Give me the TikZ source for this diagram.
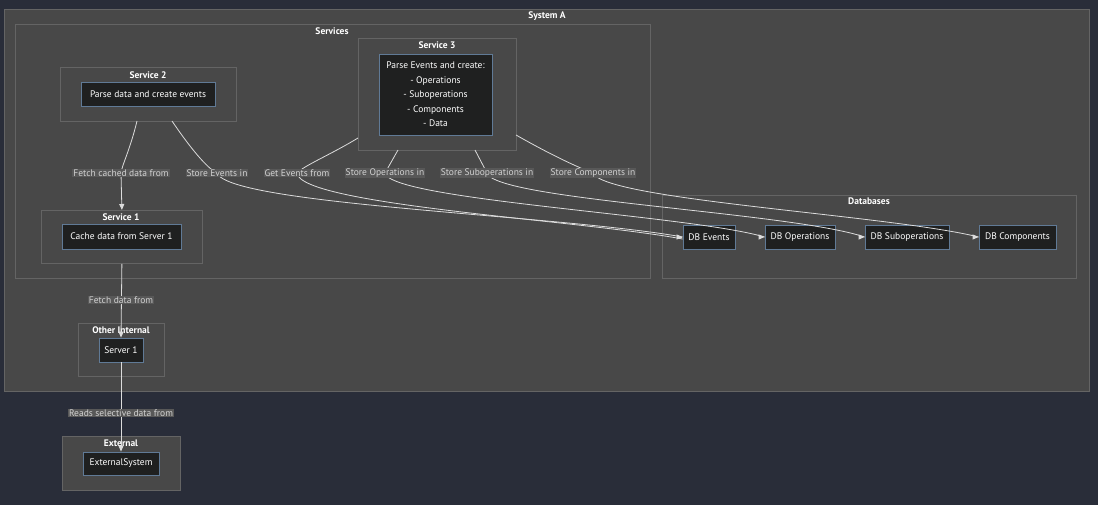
\documentclass[tikz,border=0pt]{standalone}
\usepackage{fontspec}
\setmainfont{PT Sans}
\usetikzlibrary{arrows.meta}
\definecolor{bgc}{RGB}{41,45,57}
\definecolor{clf}{RGB}{72,72,72}
\definecolor{cld}{RGB}{100,100,100}
\definecolor{ndf}{RGB}{31,32,32}
\definecolor{ndd}{RGB}{96,122,150}
\definecolor{lbf}{RGB}{88,88,88}
\definecolor{lbt}{RGB}{210,210,210}
\definecolor{edc}{RGB}{220,220,220}
\begin{document}
\begin{tikzpicture}[x=1pt,y=-1pt,
  cluster/.style={draw=cld,fill=clf,line width=0.8pt,anchor=north west,inner sep=0pt},
  ctitle/.style={font=\fontsize{9.5}{10}\selectfont\bfseries,text=white,inner sep=0pt},
  box/.style={draw=ndd,fill=ndf,text=white,font=\fontsize{9.5}{14.5}\selectfont,line width=0.8pt,inner sep=0pt,align=center},
  elab/.style={fill=lbf,text=lbt,font=\fontsize{9.5}{10}\selectfont,inner sep=1pt},
  edge/.style={draw=edc,line width=0.8pt},
  arr/.style={edge,-{Triangle[length=6pt,width=5pt]}}]
\fill[bgc] (0,0) rectangle (1098,505);
\node[cluster,minimum width=1085pt,minimum height=382pt] (sysA) at (4,9) {};
\node[ctitle] at (547,16) {System A};
\node[cluster,minimum width=635pt,minimum height=254pt] (services) at (15,24) {};
\node[ctitle] at (332,31) {Services};
\node[cluster,minimum width=176pt,minimum height=54pt] (s2) at (60,67) {};
\node[ctitle] at (148,75) {Service 2};
\node[cluster,minimum width=158pt,minimum height=112pt] (s3) at (358,38) {};
\node[ctitle] at (437,45) {Service 3};
\node[cluster,minimum width=161pt,minimum height=53pt] (s1) at (41,210) {};
\node[ctitle] at (121,217) {Service 1};
\node[cluster,minimum width=414pt,minimum height=83pt] (dbs) at (662,195) {};
\node[ctitle] at (869,201) {Databases};
\node[cluster,minimum width=86pt,minimum height=53pt] (oi) at (78,323) {};
\node[ctitle] at (121,330) {Other Internal};
\node[cluster,minimum width=118pt,minimum height=54pt] (ext) at (62,436) {};
\node[ctitle] at (121,443) {External};

\node[box,minimum width=134pt,minimum height=24pt] (p2) at (148,94) {Parse data and create events};
\node[box,minimum width=113pt,minimum height=81pt] (p3) at (435.5,94.5) {Parse Events and create:\\ - Operations\\ - Suboperations\\ - Components\\ - Data};
\node[box,minimum width=119pt,minimum height=25pt] (c1) at (121.5,236.5) {Cache data from Server 1};
\node[box,minimum width=44pt,minimum height=24pt] (sv1) at (121,350) {Server 1};
\node[box,minimum width=76pt,minimum height=23pt] (es) at (121,463.5) {ExternalSystem};
\node[box,minimum width=52pt,minimum height=24pt] (dbe) at (709,237) {DB Events};
\node[box,minimum width=70pt,minimum height=24pt] (dbo) at (800,237) {DB Operations};
\node[box,minimum width=84pt,minimum height=24pt] (dbsub) at (907,237) {DB Suboperations};
\node[box,minimum width=77pt,minimum height=24pt] (dbc) at (1017.5,237) {DB Components};

\coordinate (s2a) at (137,121);
\coordinate (s2b) at (172,121);
\coordinate (s3a) at (358,138);
\coordinate (s3b) at (398,150);
\coordinate (s3c) at (475,150);
\coordinate (s3d) at (516,135);

\draw[edge] (s2a) .. controls (130,150) and (122,165) .. (121,173);
\draw[arr] (121,173) -- (s1.north);
\draw[edge] (s2b) .. controls (195,155) and (210,170) .. (217,173) .. controls (230,205) and (560,215) .. (dbe.west);
\draw[edge] (s3a) .. controls (330,155) and (305,165) .. (297,173) .. controls (300,205) and (580,220) .. ([yshift=-2pt]dbe.west);
\draw[arr] (dbe.west) ++(-1,0) -- (dbe.west);
\draw[edge] (s3b) -- (385,173) .. controls (390,200) and (690,215) .. (dbo.west);
\draw[arr] ([xshift=-2pt]dbo.west) -- (dbo.west);
\draw[edge] (s3c) -- (487,173) .. controls (495,200) and (790,212) .. (dbsub.west);
\draw[arr] ([xshift=-2pt]dbsub.west) -- (dbsub.west);
\draw[edge] (s3d) .. controls (560,160) and (585,170) .. (593,173) .. controls (605,200) and (890,215) .. (dbc.west);
\draw[arr] ([xshift=-2pt]dbc.west) -- (dbc.west);
\draw[arr] (s1.south) -- (sv1.north);
\draw[arr] (sv1.south) -- (es.north);

\node[elab] (l1) at (121,173) {Fetch cached data from};
\node[elab] (l2) at (217,173) {Store Events in};
\node[elab] (l3) at (297,173) {Get Events from};
\node[elab] (l4) at (385,173) {Store Operations in};
\node[elab] (l5) at (487,173) {Store Suboperations in};
\node[elab] (l6) at (593,173) {Store Components in};
\node[elab] (l7) at (121,300) {Fetch data from};
\node[elab] (l8) at (121,413) {Reads selective data from};
\end{tikzpicture}
\end{document}
